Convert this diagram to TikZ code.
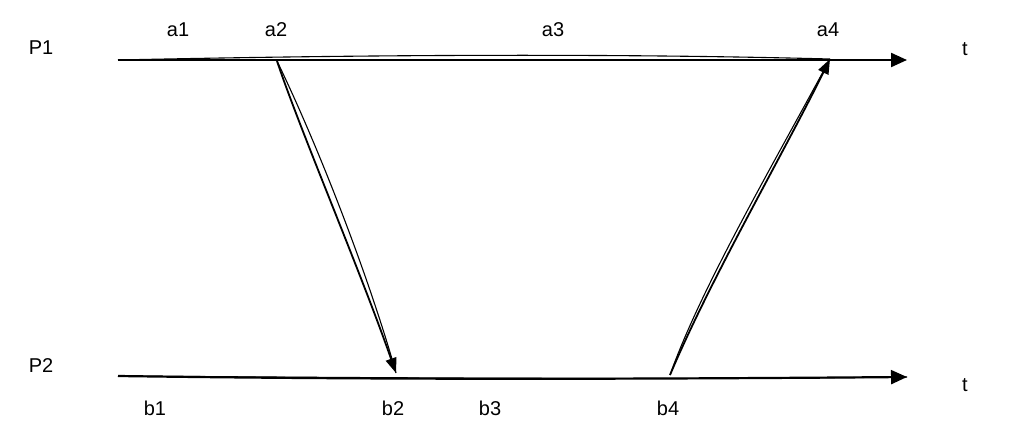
\documentclass[tikz,border=0pt]{standalone}
\usepackage{fontspec}
\setmainfont{Liberation Sans}
\usetikzlibrary{arrows.meta}
\begin{document}
\begin{tikzpicture}[x=1pt,y=-1pt,
  lbl/.style={font=\fontsize{20}{23}\selectfont, inner sep=0pt},
  axis/.style={line width=2.2pt, -{Triangle[length=16pt,width=14pt]}},
  msg/.style={line width=1.8pt, -{Triangle[length=15pt,width=11pt]}},
  sketch/.style={line width=1.1pt}]
\useasboundingbox (0,0) rectangle (1024,433);
% labels
\node[lbl] (p1) at (41,48) {P1};
\node[lbl] (p2) at (41,366) {P2};
\node[lbl] (a1) at (178,30) {a1};
\node[lbl] (a2) at (276,30) {a2};
\node[lbl] (a3) at (553,30) {a3};
\node[lbl] (a4) at (828,30) {a4};
\node[lbl] (t1) at (965,49) {t};
\node[lbl] (b1) at (155,408) {b1};
\node[lbl] (b2) at (393,408) {b2};
\node[lbl] (b3) at (490,408) {b3};
\node[lbl] (b4) at (668,408) {b4};
\node[lbl] (t2) at (965,385) {t};
% event coordinates
\coordinate (s1) at (118,60);
\coordinate (e1) at (907,60);
\coordinate (s2) at (118,376);
\coordinate (e2) at (907,377);
\coordinate (ea2) at (277,61);
\coordinate (eb2) at (396,373);
\coordinate (eb4) at (670,375);
\coordinate (ea4) at (830,59);
% process lines
\draw[axis] (s1) -- (e1);
\draw[sketch] (s1) .. controls (350,55) and (600,53) .. (ea4);
\draw[axis] (s2) .. controls (400,380) and (650,379) .. (e2);
\draw[sketch] (s2) .. controls (350,377.5) and (650,380) .. (e2);
% messages
\draw[msg] (ea2) .. controls (300,130) and (360,270) .. (eb2);
\draw[sketch] (ea2) .. controls (320,150) and (370,280) .. (eb2);
\draw[msg] (eb4) .. controls (710,280) and (780,160) .. (ea4);
\draw[sketch] (eb4) .. controls (700,290) and (770,170) .. (ea4);
\end{tikzpicture}
\end{document}
